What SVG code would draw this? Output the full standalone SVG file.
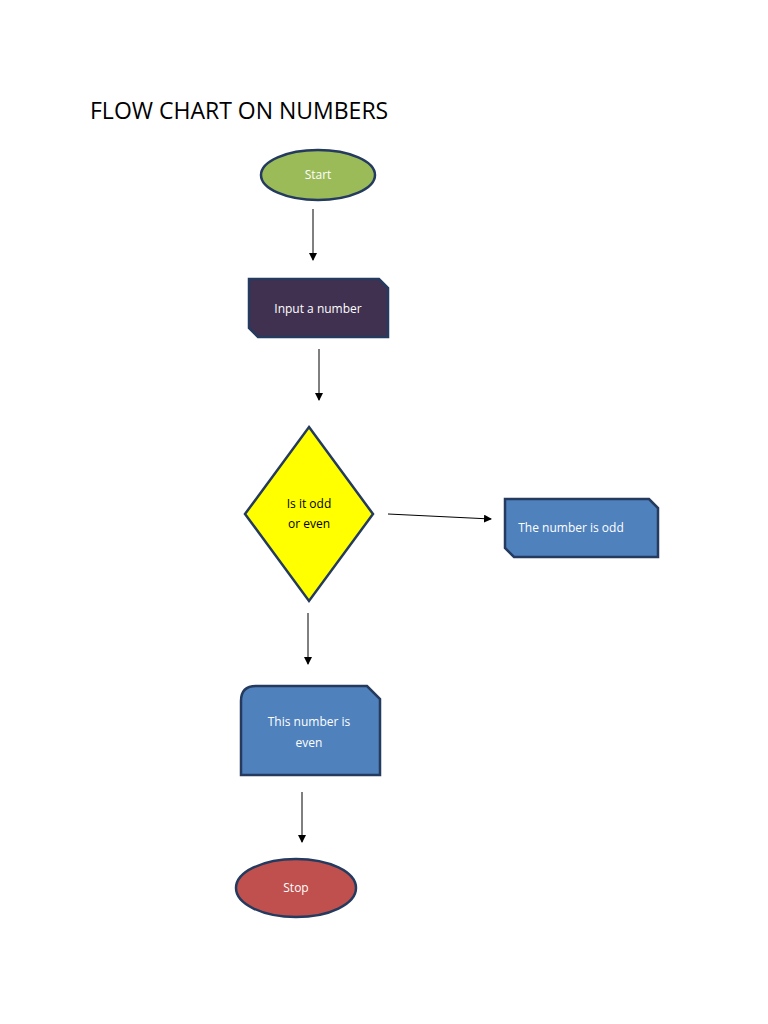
<svg xmlns="http://www.w3.org/2000/svg" width="768" height="1024" viewBox="0 0 768 1024">
<style>
.s{stroke:#243a5e;stroke-width:2.5}
.t{font-family:"Open Sans","DejaVu Sans",sans-serif;font-size:12px;text-anchor:middle;fill:#fff}
.c{stroke:#000;stroke-width:1;fill:none;marker-end:url(#a)}
</style>
<defs><marker id="a" markerWidth="8" markerHeight="8" refX="7" refY="4" orient="auto" markerUnits="userSpaceOnUse"><path d="M0,0 L8,4 L0,8 z" fill="#000"/></marker></defs>
<rect width="768" height="1024" fill="#fff"/>
<text x="90" y="119" font-family="Open Sans,DejaVu Sans,sans-serif" font-size="23" fill="#000">FLOW CHART ON NUMBERS</text>
<g id="start"><ellipse cx="318" cy="175" rx="57" ry="25" fill="#9bbb59" class="s"/><text x="318" y="179" class="t">Start</text></g>
<g id="input"><path d="M249,279 H379 L388,288 V337 H258 L249,328 Z" fill="#403151" class="s"/><text x="318" y="313" class="t">Input a number</text></g>
<g id="decision"><path d="M309,427 L373,514 L309,601 L245,514 Z" fill="#ffff00" class="s"/><text x="309" y="508" class="t" fill="#000" style="fill:#000">Is it odd</text><text x="309" y="528" class="t" style="fill:#000">or even</text></g>
<g id="odd"><path d="M505,499 H649 L658,508 V557 H514 L505,548 Z" fill="#4f81bd" class="s"/><text x="571" y="532" class="t">The number is odd</text></g>
<g id="even"><path d="M256,686 H367 L380,699 V775 H241 V701 Q241,686 256,686 Z" fill="#4f81bd" class="s"/><text x="309" y="726" class="t">This number is</text><text x="309" y="747" class="t">even</text></g>
<g id="stop"><ellipse cx="296" cy="888" rx="60" ry="29" fill="#c0504d" class="s"/><text x="296" y="892" class="t">Stop</text></g>
<g id="connectors">
<line x1="313" y1="209" x2="313" y2="260" class="c"/>
<line x1="319" y1="349" x2="319" y2="400" class="c"/>
<line x1="388" y1="514" x2="491" y2="519" class="c"/>
<line x1="308" y1="613" x2="308" y2="664" class="c"/>
<line x1="302" y1="792" x2="302" y2="842" class="c"/>
</g>
</svg>
